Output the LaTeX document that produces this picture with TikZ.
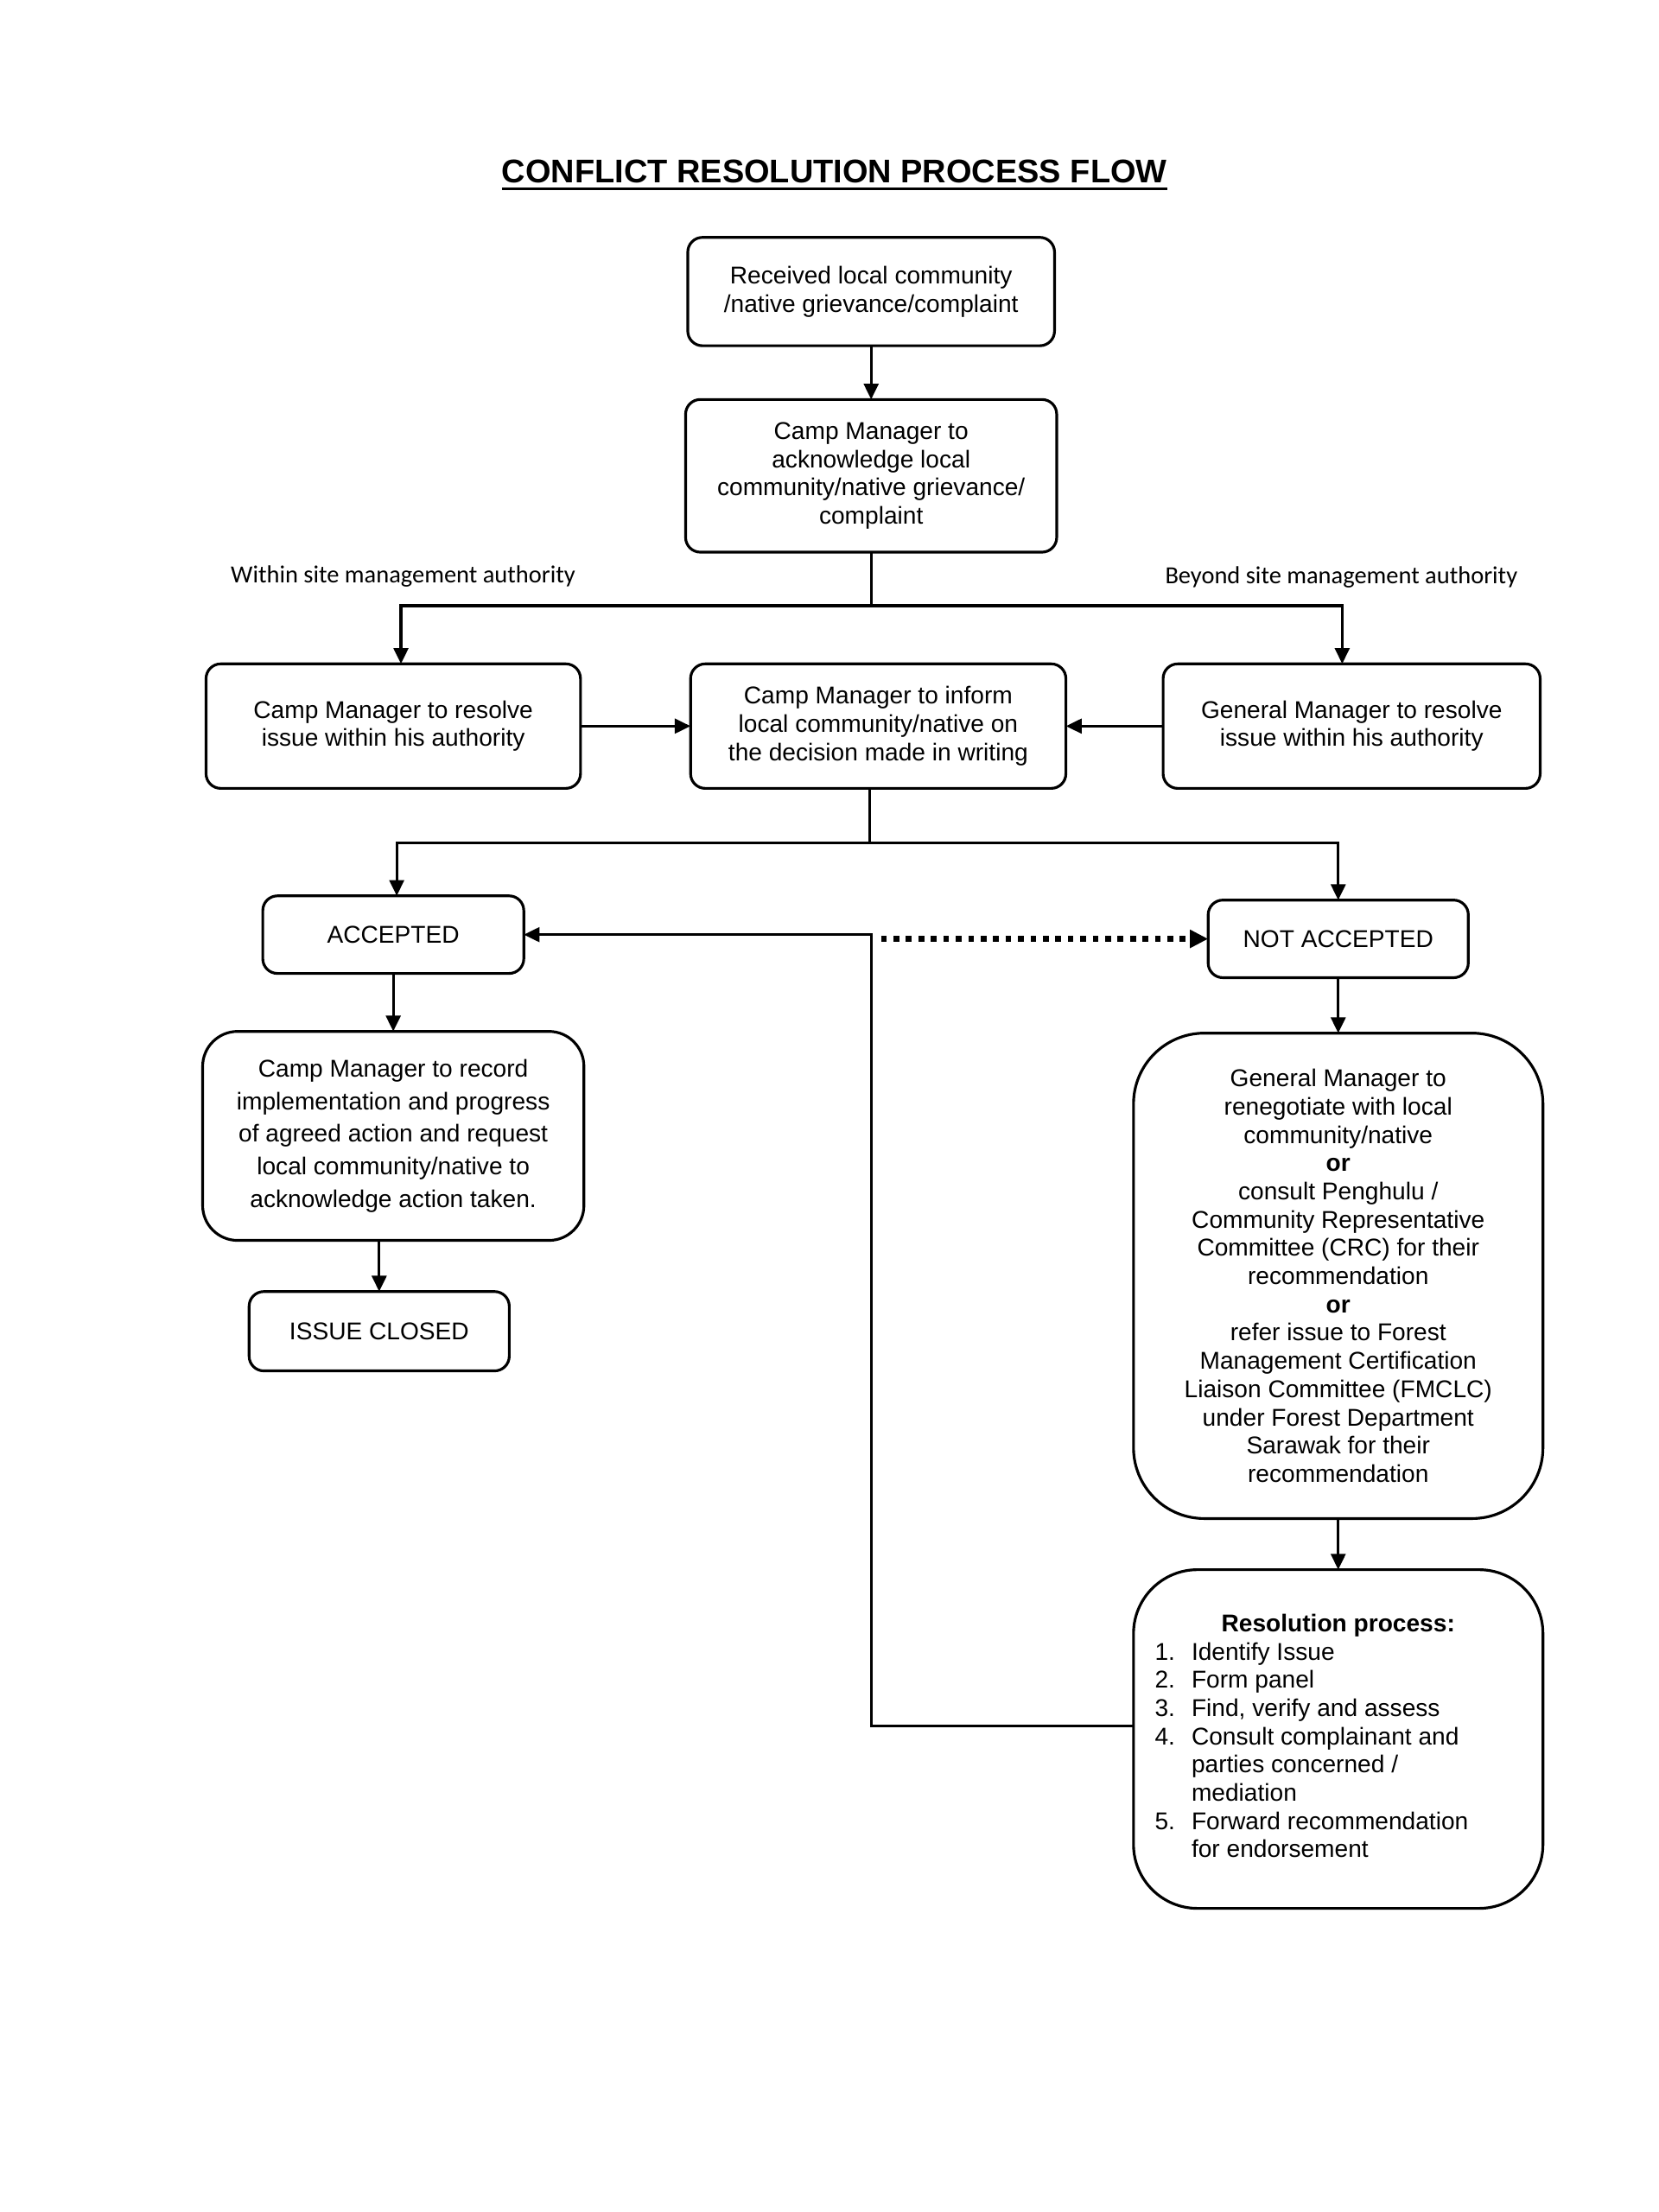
\documentclass[tikz,border=0pt]{standalone}
\usepackage{fontspec}
\setmainfont{Liberation Sans}
\newfontfamily\sidefont{Carlito}
\usepackage{array}
\usetikzlibrary{shapes, arrows.meta, positioning}

\newcommand{\boxfont}{\fontsize{8}{9.3}\selectfont}
\newcommand{\heavyul}[1]{{\setbox0\hbox{#1}\rlap{\rule[-2.4pt]{\wd0}{0.9pt}}\box0}}

\begin{document}
\begin{tikzpicture}[x=0.01634cm, y=-0.01634cm,
    >={Triangle[length=5.2pt,width=4.8pt]}, line width=0.9pt,
    flowbox/.style={draw, line width=0.9pt, outer sep=0pt, rounded corners=0.17cm, align=center, font=\boxfont, inner sep=2pt},
    sidenote/.style={font=\sidefont\fontsize{8.1}{9.4}\selectfont},
    dotline/.style={line width=1.9pt, dash pattern=on 1.9pt off 2.2pt, -{Triangle[length=6pt,width=5.7pt]}}]
        \useasboundingbox (0,0) rectangle (1175,1566.67);

        \node (title) at (591,124) {\fontsize{10.8}{13}\selectfont\bfseries\heavyul{CONFLICT RESOLUTION PROCESS FLOW}};

        \node (received) [flowbox, minimum width=4.245cm, minimum height=1.254cm] at (617,206.5) {Received local community\\/native grievance/complaint};
        \node (acknowledge) [flowbox, below=0.622cm of received, minimum width=4.295cm, minimum height=1.767cm] {Camp Manager to\\acknowledge local\\community/native grievance/\\complaint};
        \node (inform) [flowbox, below=1.293cm of acknowledge, xshift=0.082cm, minimum width=4.344cm, minimum height=1.441cm] {Camp Manager to inform\\local community/native on\\the decision made in writing};
        \node (cmresolve) [flowbox, left=1.274cm of inform, minimum width=4.334cm, minimum height=1.441cm] {Camp Manager to resolve\\issue within his authority};
        \node (gmresolve) [flowbox, right=1.125cm of inform, minimum width=4.364cm, minimum height=1.441cm] {General Manager to resolve\\issue within his authority};

        \node (accepted) [flowbox, below=1.244cm of cmresolve, minimum width=3.021cm, minimum height=0.898cm] {ACCEPTED};
        \node (notaccepted) [flowbox, below=1.293cm of gmresolve, xshift=-0.155cm, minimum width=3.011cm, minimum height=0.898cm] {NOT ACCEPTED};

        \node (record) [flowbox, below=0.671cm of accepted, minimum width=4.413cm, minimum height=2.419cm, rounded corners=0.405cm, font=\fontsize{8}{10.7}\selectfont] {Camp Manager to record\\implementation and progress\\of agreed action and request\\local community/native to\\acknowledge action taken.};
        \node (closed) [flowbox, below=0.592cm of record, xshift=-0.163cm, minimum width=3.011cm, minimum height=0.918cm] {ISSUE CLOSED};

        \node (renegotiate) [flowbox, below=0.642cm of notaccepted, minimum width=4.739cm, minimum height=5.618cm, rounded corners=0.82cm] {General Manager to\\renegotiate with local\\community/native\\\textbf{or}\\consult Penghulu /\\Community Representative\\Committee (CRC) for their\\recommendation\\\textbf{or}\\refer issue to Forest\\Management Certification\\Liaison Committee (FMCLC)\\under Forest Department\\Sarawak for their\\recommendation};
        \node (resolution) [flowbox, below=0.592cm of renegotiate, minimum width=4.739cm, minimum height=3.92cm, rounded corners=0.74cm] {%
            \begin{tabular}{@{}p{0.425cm}@{}p{3.82cm}@{}}
            \multicolumn{2}{@{}c@{}}{\textbf{Resolution process:}}\\
            1. & Identify Issue\\
            2. & Form panel\\
            3. & Find, verify and assess\\
            4. & Consult complainant and\\
               & parties concerned /\\
               & mediation\\
            5. & Forward recommendation\\
               & for endorsement
            \end{tabular}};

        \node (within) [sidenote] at (285.5,408) {Within site management authority};
        \node (beyond) [sidenote] at (950,409) {Beyond site management authority};

        % branch points
        \coordinate (split1) at (617,429);
        \coordinate (split2) at (616,597);
        \coordinate (dotstart) at (624,0);
        \coordinate (loopturn) at (617,0);

        \draw [->] (received) -- (acknowledge);
        \draw (acknowledge) -- (split1);
        \draw [->] (split1) -| ([xshift=0.089cm]cmresolve.north);
        \draw [->] (split1) -| ([xshift=-0.109cm]gmresolve.north);
        \draw [->] (cmresolve) -- (inform);
        \draw [->] (gmresolve) -- (inform);

        \draw (split2 |- inform.south) -- (split2);
        \draw [->] (split2) -| ([xshift=0.04cm]accepted.north);
        \draw [->] (split2) -| (notaccepted.north);
        \draw [dotline] (dotstart |- notaccepted.west) -- (notaccepted.west);

        \draw [->] (accepted.south) -- (accepted.south |- record.north);
        \draw [->] (closed.north |- record.south) -- (closed.north);
        \draw [->] (notaccepted) -- (renegotiate);
        \draw [->] (renegotiate) -- (resolution);
        \draw [->] ([yshift=0.148cm]resolution.west) -| (loopturn |- accepted.east) -- (accepted.east);
    \end{tikzpicture}
\end{document}
